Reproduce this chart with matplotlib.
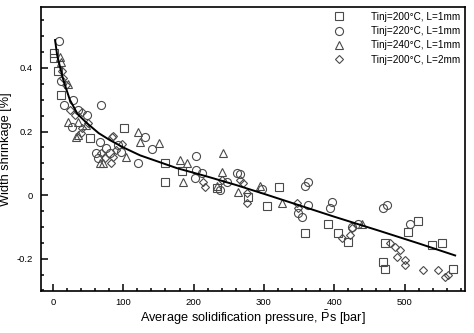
import matplotlib
matplotlib.use("Agg")
import matplotlib.pyplot as plt
from matplotlib.ticker import MultipleLocator

plt.rcParams['font.family'] = ['Liberation Sans', 'DejaVu Sans']
plt.rcParams['mathtext.fontset'] = 'custom'
plt.rcParams['mathtext.rm'] = 'Liberation Sans'
plt.rcParams['mathtext.it'] = 'Liberation Sans:italic'

# Tinj=200°C, L=1mm
sq_p = [2, 2, 7, 12, 52, 101, 159, 160, 183, 233, 278, 304, 322, 358, 391,
        405, 419, 469, 472, 472, 505, 519, 539, 553, 569]
sq_s = [0.447, 0.431, 0.39, 0.315, 0.18, 0.212, 0.10, 0.042, 0.077, 0.022,
        -0.006, -0.035, 0.024, -0.12, -0.09, -0.12, -0.148, -0.21, -0.233,
        -0.15, -0.116, -0.08, -0.158, -0.15, -0.233]

# Tinj=220°C, L=1mm
ci_p = [8.5, 12, 15, 29, 36, 48, 27, 69, 67, 75, 61, 81, 97, 92, 64, 121,
        131, 141, 204, 204, 212, 202, 237, 247, 262, 266, 297, 358, 363, 354,
        348, 363, 397, 394, 425, 434, 469, 475, 508]
ci_s = [0.485, 0.36, 0.283, 0.30, 0.268, 0.252, 0.215, 0.283, 0.167, 0.148,
        0.132, 0.132, 0.135, 0.157, 0.117, 0.10, 0.183, 0.144, 0.123, 0.08,
        0.07, 0.053, 0.015, 0.04, 0.07, 0.065, 0.02, 0.03, 0.04, -0.07,
        -0.055, -0.03, -0.022, -0.04, -0.10, -0.09, -0.04, -0.03, -0.09]

# Tinj=240°C, L=1mm
tr_p = [10, 12, 21, 21, 36, 36, 33, 47, 67, 71, 104, 121, 124, 151, 181,
        190, 185, 242, 240, 233, 263, 294, 326, 439]
tr_s = [0.435, 0.42, 0.35, 0.23, 0.23, 0.19, 0.183, 0.22, 0.10, 0.10, 0.12,
        0.197, 0.168, 0.165, 0.11, 0.10, 0.04, 0.132, 0.073, 0.03, 0.01,
        0.03, -0.026, -0.09]

# Tinj=200°C, L=2mm
di_p = [13, 14, 19, 24, 41, 31, 50, 41, 40, 84, 85, 68, 90, 74, 85, 83, 98,
        213, 216, 240, 266, 270, 276, 276, 347, 349, 411, 422, 425, 486, 480,
        493, 490, 500, 500, 526, 548, 558, 562]
di_s = [0.39, 0.37, 0.345, 0.268, 0.262, 0.252, 0.226, 0.21, 0.195, 0.183,
        0.186, 0.132, 0.142, 0.117, 0.12, 0.10, 0.16, 0.04, 0.026, 0.047,
        0.047, 0.037, 0.006, -0.026, -0.026, -0.04, -0.136, -0.126, -0.105,
        -0.163, -0.15, -0.173, -0.195, -0.205, -0.22, -0.236, -0.236, -0.258,
        -0.25]

# fitted trend curve
fit_p = [3, 6, 10, 15, 24, 35, 48, 65, 81, 100, 124, 150, 176, 220, 260,
         300, 350, 400, 465, 520, 572]
fit_s = [0.488, 0.44, 0.404, 0.36, 0.30, 0.255, 0.227, 0.195, 0.173, 0.15,
         0.125, 0.105, 0.085, 0.058, 0.032, 0.004, -0.032, -0.068, -0.113,
         -0.152, -0.19]

labels = ['Tinj=200°C, L=1mm', 'Tinj=220°C, L=1mm',
          'Tinj=240°C, L=1mm', 'Tinj=200°C, L=2mm']

fig = plt.figure(figsize=(4.74, 3.33), dpi=100)
ax = fig.add_axes([0.0865, 0.126, 0.8945, 0.853])

mk = dict(linestyle='none', markerfacecolor='none', markeredgecolor='#4a4a4a',
          markeredgewidth=0.8)
ax.plot(sq_p, sq_s, marker='s', markersize=5.3, label=labels[0], **mk)
ax.plot(ci_p, ci_s, marker='o', markersize=5.8, label=labels[1], **mk)
ax.plot(tr_p, tr_s, marker='^', markersize=5.8, label=labels[2], **mk)
ax.plot(di_p, di_s, marker='D', markersize=4.3, label=labels[3], **mk)
ax.plot(fit_p, fit_s, color='black', linewidth=1.4)

ax.set_xlim(-17, 586)
ax.set_ylim(-0.302, 0.592)
ax.xaxis.set_major_locator(MultipleLocator(100))
ax.xaxis.set_minor_locator(MultipleLocator(20))
ax.yaxis.set_major_locator(MultipleLocator(0.2))
ax.yaxis.set_minor_locator(MultipleLocator(0.05))
ax.set_yticks([-0.2, 0, 0.2, 0.4])
ax.set_yticklabels(['-0.2', '0', '0.2', '0.4'])
ax.set_xticks([0, 100, 200, 300, 400, 500])

ax.tick_params(which='both', direction='in', top=False, right=False,
               labelsize=6.8, width=1.1)
ax.tick_params(which='major', length=5)
ax.tick_params(which='minor', length=2.5)
ax.tick_params(axis='x', pad=5)
ax.tick_params(axis='y', pad=6)
for sp in ax.spines.values():
    sp.set_linewidth(1.2)

ax.set_xlabel(r'Average solidification pressure, $\bar{\mathrm{P}}$s [bar]',
              fontsize=9.2, labelpad=1)
ax.set_ylabel('Width shrinkage [%]', fontsize=9.2, labelpad=3)

ax.legend(loc='upper right', frameon=False, fontsize=7.2, handletextpad=2.7,
          borderaxespad=0.4, borderpad=0.1, labelspacing=0.42,
          handlelength=1.0)

fig.savefig('out.png', dpi=100)
